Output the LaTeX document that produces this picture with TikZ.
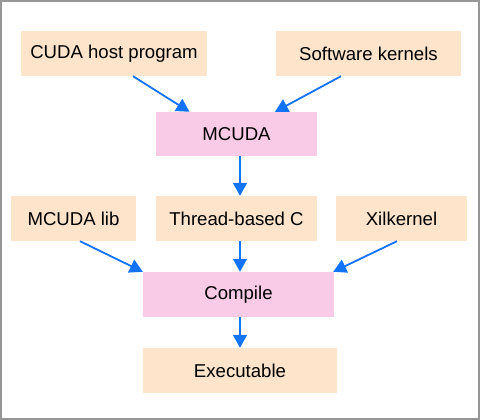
\documentclass[tikz,border=0pt]{standalone}
\usepackage{fontspec}
\setmainfont{Liberation Sans}
\usetikzlibrary{arrows.meta}
\usetikzlibrary{positioning}
\definecolor{peach}{RGB}{253,228,203}
\definecolor{pinkbox}{RGB}{250,203,230}
\definecolor{flowblue}{RGB}{18,115,255}
\definecolor{framegray}{RGB}{150,150,150}

\begin{document}
\begin{tikzpicture}[x=1pt,y=-1pt,
  input/.style={rectangle,fill=peach,draw=none,minimum height=45pt,inner sep=0pt,font=\fontsize{18.6}{22}\selectfont},
  stage/.style={rectangle,fill=pinkbox,draw=none,minimum height=44pt,inner sep=0pt,font=\fontsize{18.6}{22}\selectfont},
  flow/.style={draw=flowblue,line width=1.8pt,-{Triangle[length=13pt,width=14pt]}}]
\useasboundingbox (0,0) rectangle (480,420);
\draw[framegray,line width=1.5pt] (1,1) rectangle (479,419);

\node[input,minimum width=186pt] (host) at (114,53.5) {CUDA host program};
\node[input,minimum width=185pt] (kern) at (368.5,53.5) {Software kernels};
\node[stage,minimum width=161pt] (mcuda) at (236.5,134) {MCUDA};
\node[input,minimum width=125pt] (lib) at (73.5,218.5) {MCUDA lib};
\node[input,minimum width=161pt] (thread) at (236.5,218.5) {Thread-based C};
\node[input,minimum width=131pt] (xil) at (401.5,218.5) {Xilkernel};
\node[stage,minimum width=191pt,minimum height=45pt] (comp) at (238.5,294.5) {Compile};
\node[input,minimum width=194pt] (exe) at (240,370.5) {Executable};

\draw[flow] ([xshift=19pt]host.south) -- ([xshift=-47pt]mcuda.north);
\draw[flow] ([xshift=-27.5pt]kern.south) -- ([xshift=38.5pt]mcuda.north);
\draw[flow] ([xshift=3.5pt]mcuda.south) -- ([xshift=3.5pt]thread.north);
\draw[flow] ([xshift=6.5pt]lib.south) -- (comp.north west);
\draw[flow] ([xshift=3.5pt]thread.south) -- ([xshift=1.5pt]comp.north);
\draw[flow] ([xshift=-4.5pt]xil.south) -- ([xshift=-1pt]comp.north east);
\draw[flow] ([xshift=1.5pt]comp.south) -- (exe.north);

\end{tikzpicture}
\end{document}
